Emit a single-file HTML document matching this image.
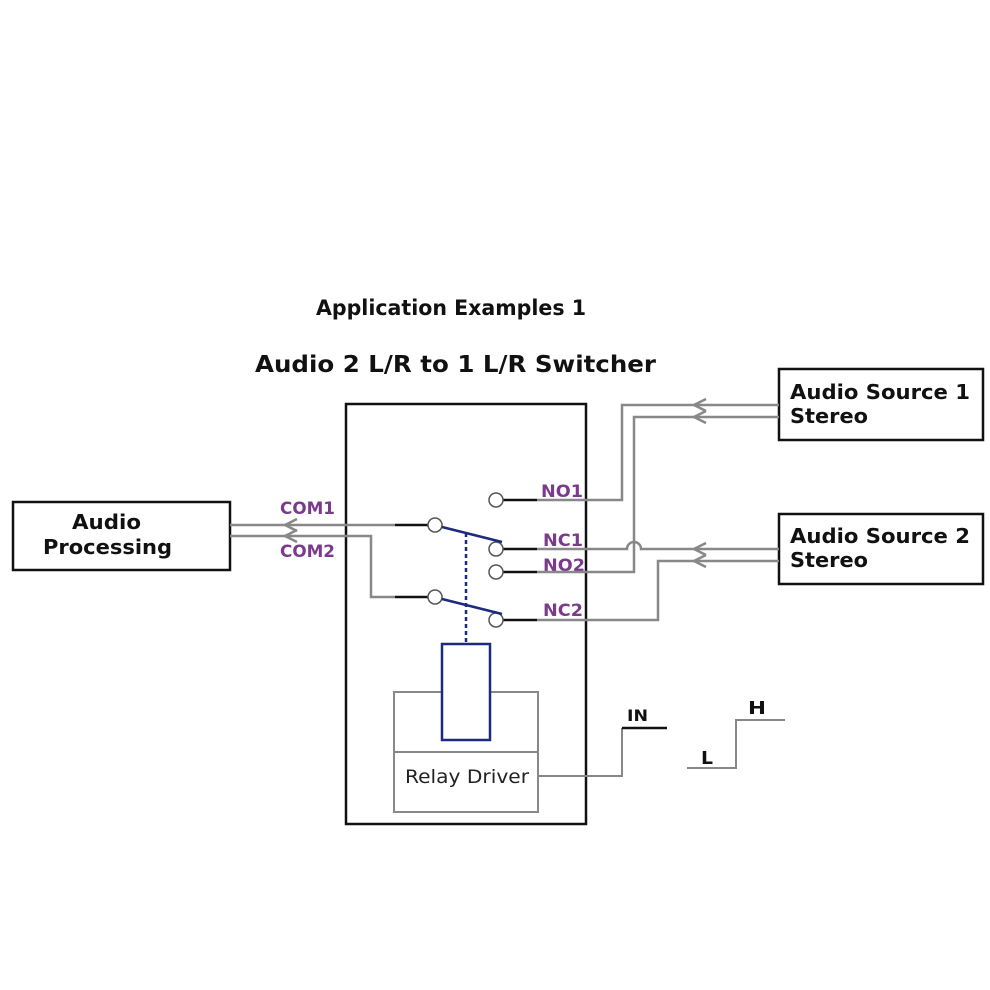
<!DOCTYPE html>
<html><head><style>
html,body{margin:0;padding:0;background:#fff}
svg{display:block}
</style></head><body>
<svg width="990" height="990" viewBox="0 0 990 990" xmlns="http://www.w3.org/2000/svg">
<rect width="990" height="990" fill="#fff"/>
<g font-family="DejaVu Sans, sans-serif" font-weight="bold" fill="#111">
<text x="316" y="315" font-size="21" textLength="270" lengthAdjust="spacingAndGlyphs">Application Examples 1</text>
<text x="255" y="372" font-size="23" textLength="401" lengthAdjust="spacingAndGlyphs">Audio 2 L/R to 1 L/R Switcher</text>
<text x="72" y="529" font-size="20" textLength="69" lengthAdjust="spacingAndGlyphs">Audio</text>
<text x="43" y="554" font-size="20" textLength="129" lengthAdjust="spacingAndGlyphs">Processing</text>
<text x="790" y="399" font-size="20" textLength="180" lengthAdjust="spacingAndGlyphs">Audio Source 1</text>
<text x="790" y="423" font-size="20" textLength="78" lengthAdjust="spacingAndGlyphs">Stereo</text>
<text x="790" y="543" font-size="20" textLength="180" lengthAdjust="spacingAndGlyphs">Audio Source 2</text>
<text x="790" y="567" font-size="20" textLength="78" lengthAdjust="spacingAndGlyphs">Stereo</text>
<text x="627" y="721" font-size="16" textLength="21" lengthAdjust="spacingAndGlyphs">IN</text>
<text x="701" y="764" font-size="18" textLength="12" lengthAdjust="spacingAndGlyphs">L</text>
<text x="748" y="714" font-size="18" textLength="18" lengthAdjust="spacingAndGlyphs">H</text>
</g>
<g font-family="DejaVu Sans, sans-serif" font-weight="bold" fill="#7b3a8c" font-size="17">
<text x="280" y="514" textLength="55" lengthAdjust="spacingAndGlyphs">COM1</text>
<text x="280" y="557" textLength="55" lengthAdjust="spacingAndGlyphs">COM2</text>
<text x="541" y="497" textLength="42" lengthAdjust="spacingAndGlyphs">NO1</text>
<text x="543" y="546" textLength="40" lengthAdjust="spacingAndGlyphs">NC1</text>
<text x="543" y="571" textLength="42" lengthAdjust="spacingAndGlyphs">NO2</text>
<text x="543" y="616" textLength="40" lengthAdjust="spacingAndGlyphs">NC2</text>
</g>
<g fill="none" stroke="#111" stroke-width="2.5">
<rect x="13" y="502" width="217" height="68"/>
<rect x="346" y="404" width="240" height="420"/>
<rect x="779" y="369" width="204" height="71"/>
<rect x="779" y="514" width="204" height="70"/>
</g>
<g fill="none" stroke="#888" stroke-width="2.5">
<path d="M230 525H395"/>
<path d="M230 536H371V597H395"/>
<path d="M537 500H622V405H779"/>
<path d="M779 417H634V572H537"/>
<path d="M537 549H627A7 7 0 0 1 641 549H779"/>
<path d="M779 561H658V620H537"/>
<path d="M297 519L285 525L297 531M297 530L285 536L297 542"/>
<path d="M706 399L694 405L706 411M706 411L694 417L706 423"/>
<path d="M706 543L694 549L706 555M706 555L694 561L706 567"/>
<rect x="394" y="692" width="144" height="120" stroke-width="2"/>
<path d="M394 752H538" stroke-width="2"/>
<path d="M538 776H622V728" stroke-width="2"/>
<path d="M687 768H736V720H785" stroke-width="2"/>
</g>
<g fill="none" stroke="#111" stroke-width="2.5">
<path d="M395 525H428M395 597H428M503 500H537M503 549H537M503 572H537M503 620H537"/>
<path d="M622 728H667"/>
</g>
<g fill="#fff" stroke="#555" stroke-width="1.5">
<circle cx="435" cy="525" r="7"/>
<circle cx="435" cy="597" r="7"/>
<circle cx="496" cy="500" r="7"/>
<circle cx="496" cy="549" r="7"/>
<circle cx="496" cy="572" r="7"/>
<circle cx="496" cy="620" r="7"/>
</g>
<g fill="none" stroke="#1c2a80" stroke-width="2.5">
<path d="M442 527L502 542M442 599L502 614"/>
<path d="M466 533V644" stroke-dasharray="4 3"/>
<rect x="442" y="644" width="48" height="96" fill="#fff"/>
</g>
<text x="405" y="783" font-family="DejaVu Sans, sans-serif" font-size="19" fill="#222" textLength="124" lengthAdjust="spacingAndGlyphs">Relay Driver</text>
</svg>
</body></html>
